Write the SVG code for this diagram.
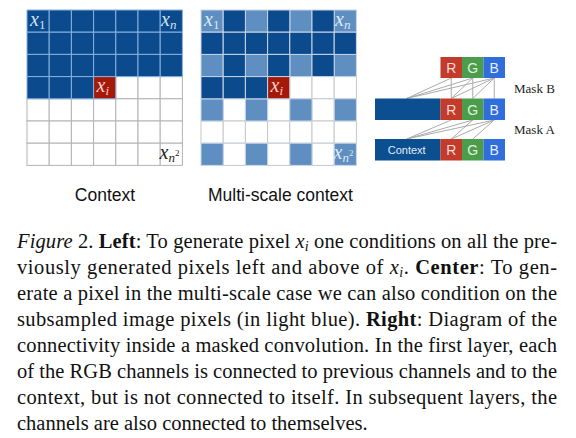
<svg xmlns="http://www.w3.org/2000/svg" width="576" height="438" viewBox="0 0 576 438">
<style>
.d{fill:#0b4a8d;stroke:#86b2de;stroke-width:1}
.l{fill:#5f8fc1;stroke:#c9d6e4;stroke-width:1}
.w{fill:#ffffff;stroke:#b3b3b3;stroke-width:1}
.cd{fill:#0b4a8d;stroke:#c9d6e4;stroke-width:1}
.cw{fill:#ffffff;stroke:#c4c8cc;stroke-width:1}
.r{fill:#a5190b;stroke:#86b2de;stroke-width:1}
.lab{font-family:"Liberation Serif",serif;font-style:italic;font-size:20px}
.sub{font-size:13px}
.sans{font-family:"Liberation Sans",Arial,sans-serif}
.cap{font-family:"Liberation Serif","Times New Roman",serif;font-size:20.5px;fill:#111}
.conn line{stroke:#ababab;stroke-width:1}
.ch{font-family:"Liberation Sans",Arial,sans-serif;font-size:14px;text-anchor:middle}
</style>
<rect width="576" height="438" fill="#ffffff"/>

<g id="left-grid" transform="translate(27,10)">
  <g class="w">
    <rect x="88.8" y="66.6" width="22.2" height="22.2"/><rect x="111" y="66.6" width="22.2" height="22.2"/><rect x="133.2" y="66.6" width="22.2" height="22.2"/>
    <rect x="0" y="88.8" width="22.2" height="22.2"/><rect x="22.2" y="88.8" width="22.2" height="22.2"/><rect x="44.4" y="88.8" width="22.2" height="22.2"/><rect x="66.6" y="88.8" width="22.2" height="22.2"/><rect x="88.8" y="88.8" width="22.2" height="22.2"/><rect x="111" y="88.8" width="22.2" height="22.2"/><rect x="133.2" y="88.8" width="22.2" height="22.2"/>
    <rect x="0" y="111" width="22.2" height="22.2"/><rect x="22.2" y="111" width="22.2" height="22.2"/><rect x="44.4" y="111" width="22.2" height="22.2"/><rect x="66.6" y="111" width="22.2" height="22.2"/><rect x="88.8" y="111" width="22.2" height="22.2"/><rect x="111" y="111" width="22.2" height="22.2"/><rect x="133.2" y="111" width="22.2" height="22.2"/>
    <rect x="0" y="133.2" width="22.2" height="22.2"/><rect x="22.2" y="133.2" width="22.2" height="22.2"/><rect x="44.4" y="133.2" width="22.2" height="22.2"/><rect x="66.6" y="133.2" width="22.2" height="22.2"/><rect x="88.8" y="133.2" width="22.2" height="22.2"/><rect x="111" y="133.2" width="22.2" height="22.2"/><rect x="133.2" y="133.2" width="22.2" height="22.2"/>
  </g>
  <g class="d">
    <rect x="0" y="0" width="22.2" height="22.2"/><rect x="22.2" y="0" width="22.2" height="22.2"/><rect x="44.4" y="0" width="22.2" height="22.2"/><rect x="66.6" y="0" width="22.2" height="22.2"/><rect x="88.8" y="0" width="22.2" height="22.2"/><rect x="111" y="0" width="22.2" height="22.2"/><rect x="133.2" y="0" width="22.2" height="22.2"/>
    <rect x="0" y="22.2" width="22.2" height="22.2"/><rect x="22.2" y="22.2" width="22.2" height="22.2"/><rect x="44.4" y="22.2" width="22.2" height="22.2"/><rect x="66.6" y="22.2" width="22.2" height="22.2"/><rect x="88.8" y="22.2" width="22.2" height="22.2"/><rect x="111" y="22.2" width="22.2" height="22.2"/><rect x="133.2" y="22.2" width="22.2" height="22.2"/>
    <rect x="0" y="44.4" width="22.2" height="22.2"/><rect x="22.2" y="44.4" width="22.2" height="22.2"/><rect x="44.4" y="44.4" width="22.2" height="22.2"/><rect x="66.6" y="44.4" width="22.2" height="22.2"/><rect x="88.8" y="44.4" width="22.2" height="22.2"/><rect x="111" y="44.4" width="22.2" height="22.2"/><rect x="133.2" y="44.4" width="22.2" height="22.2"/>
    <rect x="0" y="66.6" width="22.2" height="22.2"/><rect x="22.2" y="66.6" width="22.2" height="22.2"/><rect x="44.4" y="66.6" width="22.2" height="22.2"/>
  </g>
  <rect class="r" x="66.6" y="66.6" width="22.2" height="22.2"/>
  <text class="lab" x="3" y="16" fill="#cfe0f4">x<tspan class="sub" dy="3" font-style="normal">1</tspan></text>
  <text class="lab" x="134" y="16" fill="#cfe0f4">x<tspan class="sub" dy="3">n</tspan></text>
  <text class="lab" x="69.5" y="82" fill="#f4d4cc">x<tspan class="sub" dy="3">i</tspan></text>
  <text class="lab" x="132.5" y="149" fill="#222">x<tspan class="sub" dy="3">n</tspan><tspan font-size="9" font-style="normal" dy="-6">2</tspan></text>
</g>

<g id="center-grid" transform="translate(201,10)">
  <g class="cw">
    <rect x="88.8" y="66.6" width="22.2" height="22.2"/><rect x="111" y="66.6" width="22.2" height="22.2"/><rect x="133.2" y="66.6" width="22.2" height="22.2"/>
    <rect x="22.2" y="88.8" width="22.2" height="22.2"/><rect x="66.6" y="88.8" width="22.2" height="22.2"/><rect x="111" y="88.8" width="22.2" height="22.2"/>
    <rect x="0" y="111" width="22.2" height="22.2"/><rect x="22.2" y="111" width="22.2" height="22.2"/><rect x="44.4" y="111" width="22.2" height="22.2"/><rect x="66.6" y="111" width="22.2" height="22.2"/><rect x="88.8" y="111" width="22.2" height="22.2"/><rect x="111" y="111" width="22.2" height="22.2"/><rect x="133.2" y="111" width="22.2" height="22.2"/>
    <rect x="22.2" y="133.2" width="22.2" height="22.2"/><rect x="66.6" y="133.2" width="22.2" height="22.2"/><rect x="111" y="133.2" width="22.2" height="22.2"/>
  </g>
  <g class="l">
    <rect x="0" y="0" width="22.2" height="22.2"/><rect x="44.4" y="0" width="22.2" height="22.2"/><rect x="88.8" y="0" width="22.2" height="22.2"/><rect x="133.2" y="0" width="22.2" height="22.2"/>
    <rect x="0" y="44.4" width="22.2" height="22.2"/><rect x="44.4" y="44.4" width="22.2" height="22.2"/><rect x="88.8" y="44.4" width="22.2" height="22.2"/><rect x="133.2" y="44.4" width="22.2" height="22.2"/>
    <rect x="0" y="88.8" width="22.2" height="22.2"/><rect x="44.4" y="88.8" width="22.2" height="22.2"/><rect x="88.8" y="88.8" width="22.2" height="22.2"/><rect x="133.2" y="88.8" width="22.2" height="22.2"/>
    <rect x="0" y="133.2" width="22.2" height="22.2"/><rect x="44.4" y="133.2" width="22.2" height="22.2"/><rect x="88.8" y="133.2" width="22.2" height="22.2"/><rect x="133.2" y="133.2" width="22.2" height="22.2"/>
  </g>
  <g class="cd">
    <rect x="22.2" y="0" width="22.2" height="22.2"/><rect x="66.6" y="0" width="22.2" height="22.2"/><rect x="111" y="0" width="22.2" height="22.2"/>
    <rect x="0" y="22.2" width="22.2" height="22.2"/><rect x="22.2" y="22.2" width="22.2" height="22.2"/><rect x="44.4" y="22.2" width="22.2" height="22.2"/><rect x="66.6" y="22.2" width="22.2" height="22.2"/><rect x="88.8" y="22.2" width="22.2" height="22.2"/><rect x="111" y="22.2" width="22.2" height="22.2"/><rect x="133.2" y="22.2" width="22.2" height="22.2"/>
    <rect x="22.2" y="44.4" width="22.2" height="22.2"/><rect x="66.6" y="44.4" width="22.2" height="22.2"/><rect x="111" y="44.4" width="22.2" height="22.2"/>
    <rect x="0" y="66.6" width="22.2" height="22.2"/><rect x="22.2" y="66.6" width="22.2" height="22.2"/><rect x="44.4" y="66.6" width="22.2" height="22.2"/>
  </g>
  <rect x="66.6" y="66.6" width="22.2" height="22.2" fill="#a5190b" stroke="#c9d6e4"/>
  <text class="lab" x="3" y="16" fill="#dde8f5">x<tspan class="sub" dy="3" font-style="normal">1</tspan></text>
  <text class="lab" x="134" y="16" fill="#dde8f5">x<tspan class="sub" dy="3">n</tspan></text>
  <text class="lab" x="69.5" y="82" fill="#f4d4cc">x<tspan class="sub" dy="3">i</tspan></text>
  <text class="lab" x="132.5" y="149" fill="#dde8f5">x<tspan class="sub" dy="3">n</tspan><tspan font-size="9" font-style="normal" dy="-6">2</tspan></text>
</g>

<text class="sans" x="105" y="201" font-size="17.5" text-anchor="middle" fill="#111">Context</text>
<text class="sans" x="280.5" y="201" font-size="17.5" text-anchor="middle" fill="#111">Multi-scale context</text>

<g id="connectors" class="conn">
  <line x1="406.7" y1="98.5" x2="451.25" y2="78"/>
  <line x1="406.7" y1="98.5" x2="472.75" y2="78"/>
  <line x1="406.7" y1="98.5" x2="494.25" y2="78"/>
  <line x1="451.25" y1="98.5" x2="451.25" y2="78"/>
  <line x1="451.25" y1="98.5" x2="472.75" y2="78"/>
  <line x1="451.25" y1="98.5" x2="494.25" y2="78"/>
  <line x1="472.75" y1="98.5" x2="472.75" y2="78"/>
  <line x1="472.75" y1="98.5" x2="494.25" y2="78"/>
  <line x1="494.25" y1="98.5" x2="494.25" y2="78"/>
  <line x1="406.7" y1="139" x2="451.25" y2="120"/>
  <line x1="406.7" y1="139" x2="472.75" y2="120"/>
  <line x1="406.7" y1="139" x2="494.25" y2="120"/>
  <line x1="451.25" y1="139" x2="472.75" y2="120"/>
  <line x1="451.25" y1="139" x2="494.25" y2="120"/>
  <line x1="472.75" y1="139" x2="494.25" y2="120"/>
</g>

<g id="layer-top">
  <rect x="440.5" y="57" width="21.5" height="21" fill="#c23b2b"/>
  <rect x="462" y="57" width="21.5" height="21" fill="#4b9d4c"/>
  <rect x="483.5" y="57" width="21.5" height="21" fill="#2f6edb"/>
  <text class="ch" x="451.25" y="72.5" fill="#f6dcd6">R</text>
  <text class="ch" x="472.75" y="72.5" fill="#ddf2dc">G</text>
  <text class="ch" x="494.25" y="72.5" fill="#e4ecff">B</text>
</g>
<g id="layer-mid">
  <rect x="375" y="98.5" width="65.5" height="21.5" fill="#0b4f90"/>
  <rect x="440.5" y="98.5" width="21.5" height="21.5" fill="#c23b2b"/>
  <rect x="462" y="98.5" width="21.5" height="21.5" fill="#4b9d4c"/>
  <rect x="483.5" y="98.5" width="21.5" height="21.5" fill="#2f6edb"/>
  <text class="ch" x="451.25" y="114.5" fill="#f6dcd6">R</text>
  <text class="ch" x="472.75" y="114.5" fill="#ddf2dc">G</text>
  <text class="ch" x="494.25" y="114.5" fill="#e4ecff">B</text>
</g>
<g id="layer-bottom">
  <rect x="375" y="139" width="65.5" height="21.5" fill="#0b4f90"/>
  <rect x="440.5" y="139" width="21.5" height="21.5" fill="#c23b2b"/>
  <rect x="462" y="139" width="21.5" height="21.5" fill="#4b9d4c"/>
  <rect x="483.5" y="139" width="21.5" height="21.5" fill="#2f6edb"/>
  <text class="sans" x="406.7" y="154" font-size="11" text-anchor="middle" fill="#e2ecf8">Context</text>
  <text class="ch" x="451.25" y="155" fill="#f6dcd6">R</text>
  <text class="ch" x="472.75" y="155" fill="#ddf2dc">G</text>
  <text class="ch" x="494.25" y="155" fill="#e4ecff">B</text>
</g>
<text x="514" y="93" font-family="'Liberation Serif',serif" font-size="13" fill="#222">Mask B</text>
<text x="514" y="134" font-family="'Liberation Serif',serif" font-size="13" fill="#222">Mask A</text>

<g id="caption" class="cap">
  <text x="17" y="248" textLength="540" lengthAdjust="spacing"><tspan font-style="italic">Figure</tspan> 2. <tspan font-weight="bold">Left</tspan>: To generate pixel <tspan font-style="italic">x</tspan><tspan font-style="italic" font-size="14" dy="3">i</tspan><tspan dy="-3"> one conditions on all the pre-</tspan></text>
  <text x="17" y="274" textLength="540" lengthAdjust="spacing">viously generated pixels left and above of <tspan font-style="italic">x</tspan><tspan font-style="italic" font-size="14" dy="3">i</tspan><tspan dy="-3">.  </tspan><tspan font-weight="bold">Center</tspan>: To gen-</text>
  <text x="17" y="300" textLength="540" lengthAdjust="spacing">erate a pixel in the multi-scale case we can also condition on the</text>
  <text x="17" y="326" textLength="540" lengthAdjust="spacing">subsampled image pixels (in light blue).  <tspan font-weight="bold">Right</tspan>: Diagram of the</text>
  <text x="17" y="352" textLength="540" lengthAdjust="spacing">connectivity inside a masked convolution. In the first layer, each</text>
  <text x="17" y="378" textLength="540" lengthAdjust="spacing">of the RGB channels is connected to previous channels and to the</text>
  <text x="17" y="404" textLength="540" lengthAdjust="spacing">context, but is not connected to itself.  In subsequent layers, the</text>
  <text x="17" y="430">channels are also connected to themselves.</text>
</g>
</svg>
